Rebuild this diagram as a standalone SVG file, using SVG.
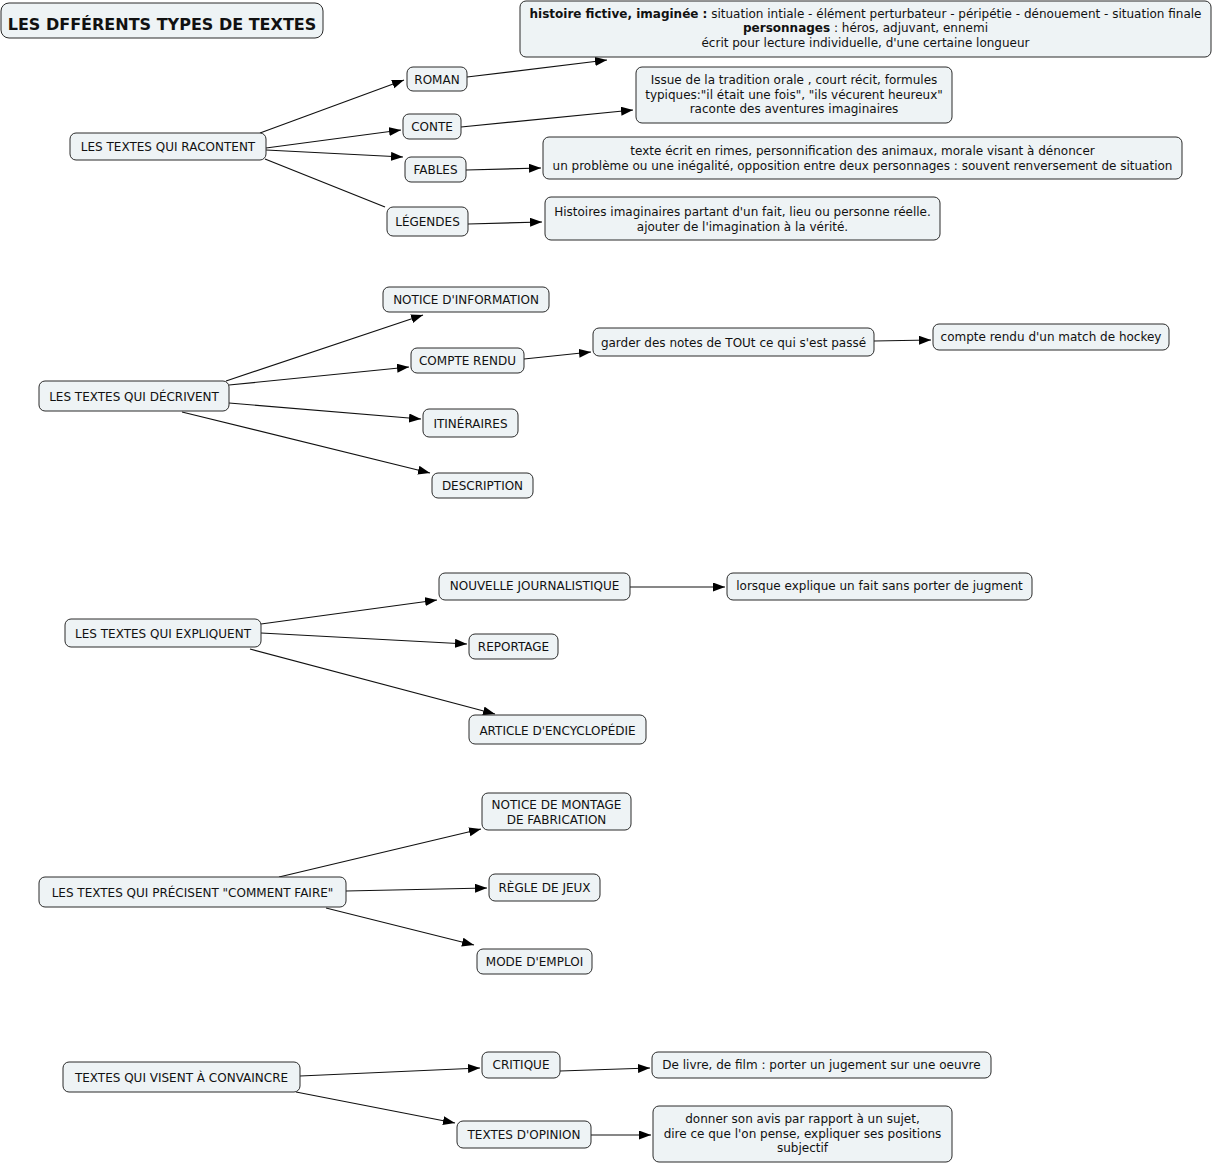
<svg xmlns="http://www.w3.org/2000/svg" width="1214" height="1165" viewBox="0 0 1214 1165">
<style>
.n rect{fill:#eef3f5;stroke:#2a2a2a;stroke-width:1}
.n text{font-family:"DejaVu Sans",Verdana,sans-serif;font-size:12px;fill:#111;text-anchor:middle}
.c line{stroke:#111;stroke-width:1.2;fill:none}
.c .a{marker-end:url(#ah)}
.b{font-weight:bold}
</style>
<defs>
<marker id="ah" markerUnits="userSpaceOnUse" markerWidth="13" markerHeight="10" refX="12" refY="4.5" orient="auto">
<path d="M0,0 L12,4.5 L0,9 z" fill="#000"/>
</marker>
</defs>
<rect width="1214" height="1165" fill="#fff"/>
<g id="connectors" class="c">
<line class="a" x1="260" y1="133" x2="404" y2="80"/>
<line class="a" x1="266" y1="148" x2="401" y2="130"/>
<line class="a" x1="266" y1="150" x2="403" y2="157"/>
<line x1="265" y1="159" x2="385" y2="207"/>
<line class="a" x1="467" y1="77" x2="607" y2="60"/>
<line class="a" x1="461" y1="127" x2="633" y2="110"/>
<line class="a" x1="466" y1="170" x2="541" y2="168"/>
<line class="a" x1="468" y1="224" x2="542" y2="222"/>
<line class="a" x1="226" y1="381" x2="423" y2="315"/>
<line class="a" x1="229" y1="385" x2="409" y2="367"/>
<line class="a" x1="229" y1="403" x2="421" y2="419"/>
<line class="a" x1="182" y1="412" x2="430" y2="473"/>
<line class="a" x1="524" y1="359" x2="591" y2="352"/>
<line class="a" x1="874" y1="341" x2="931" y2="340"/>
<line class="a" x1="261" y1="624" x2="437" y2="600"/>
<line class="a" x1="261" y1="633" x2="467" y2="644"/>
<line class="a" x1="250" y1="649" x2="495" y2="714"/>
<line class="a" x1="630" y1="587" x2="725" y2="587"/>
<line class="a" x1="279" y1="877" x2="481" y2="829"/>
<line class="a" x1="346" y1="891" x2="487" y2="888"/>
<line class="a" x1="326" y1="908" x2="474" y2="945"/>
<line class="a" x1="300" y1="1076" x2="480" y2="1068"/>
<line class="a" x1="296" y1="1092" x2="455" y2="1123"/>
<line class="a" x1="560" y1="1071" x2="650" y2="1068"/>
<line class="a" x1="591" y1="1135" x2="651" y2="1135"/>
</g>
<g id="title" class="n"><rect x="1" y="3" width="322" height="35" rx="8"/><text x="162" y="29.5" class="b" style="font-size:16px">LES DFFÉRENTS TYPES DE TEXTES</text></g>
<g id="racontent" class="n"><rect x="70" y="133" width="196" height="27" rx="6"/><text x="168" y="150.5">LES TEXTES QUI RACONTENT</text></g>
<g id="roman" class="n"><rect x="407" y="67" width="60" height="24" rx="6"/><text x="437" y="83.5">ROMAN</text></g>
<g id="roman-def" class="n"><rect x="520" y="1" width="691" height="56" rx="6"/><text x="865.5" y="18"><tspan class="b">histoire fictive, imaginée :</tspan> situation intiale - élément perturbateur - péripétie - dénouement - situation finale</text><text x="865.5" y="32"><tspan class="b">personnages</tspan> : héros, adjuvant, ennemi</text><text x="865.5" y="47">écrit pour lecture individuelle, d'une certaine longueur</text></g>
<g id="conte" class="n"><rect x="403" y="114" width="58" height="25" rx="6"/><text x="432" y="130.5">CONTE</text></g>
<g id="conte-def" class="n"><rect x="636" y="67" width="316" height="56" rx="6"/><text x="794" y="84">Issue de la tradition orale , court récit, formules</text><text x="794" y="98.5">typiques:"il était une fois", "ils vécurent heureux"</text><text x="794" y="113">raconte des aventures imaginaires</text></g>
<g id="fables" class="n"><rect x="405" y="157" width="61" height="25" rx="6"/><text x="435.5" y="174">FABLES</text></g>
<g id="fables-def" class="n"><rect x="543" y="137" width="639" height="42" rx="6"/><text x="862.5" y="154.5">texte écrit en rimes, personnification des animaux, morale visant à dénoncer</text><text x="862.5" y="169.5">un problème ou une inégalité, opposition entre deux personnages : souvent renversement de situation</text></g>
<g id="legendes" class="n"><rect x="387" y="207" width="81" height="29" rx="6"/><text x="427.5" y="226">LÉGENDES</text></g>
<g id="legendes-def" class="n"><rect x="545" y="197" width="395" height="43" rx="6"/><text x="742.5" y="215.5">Histoires imaginaires partant d'un fait, lieu ou personne réelle.</text><text x="742.5" y="230.5">ajouter de l'imagination à la vérité.</text></g>
<g id="decrivent" class="n"><rect x="39" y="381" width="190" height="30" rx="6"/><text x="134" y="400.5">LES TEXTES QUI DÉCRIVENT</text></g>
<g id="notice-info" class="n"><rect x="383" y="287" width="166" height="25" rx="6"/><text x="466" y="303.5">NOTICE D'INFORMATION</text></g>
<g id="compte-rendu" class="n"><rect x="411" y="348" width="113" height="25" rx="6"/><text x="467.5" y="364.5">COMPTE RENDU</text></g>
<g id="garder" class="n"><rect x="593" y="328" width="281" height="28" rx="6"/><text x="733.5" y="346.5">garder des notes de TOUt ce qui s'est passé</text></g>
<g id="hockey" class="n"><rect x="933" y="324" width="236" height="26" rx="6"/><text x="1051" y="341">compte rendu d'un match de hockey</text></g>
<g id="itineraires" class="n"><rect x="423" y="409" width="95" height="28" rx="6"/><text x="470.5" y="427.5">ITINÉRAIRES</text></g>
<g id="description" class="n"><rect x="432" y="473" width="101" height="25" rx="6"/><text x="482.5" y="489.5">DESCRIPTION</text></g>
<g id="expliquent" class="n"><rect x="65" y="619" width="196" height="28" rx="6"/><text x="163" y="637.5">LES TEXTES QUI EXPLIQUENT</text></g>
<g id="nouvelle" class="n"><rect x="439" y="573" width="191" height="27" rx="6"/><text x="534.5" y="590">NOUVELLE JOURNALISTIQUE</text></g>
<g id="lorsque" class="n"><rect x="727" y="573" width="305" height="27" rx="6"/><text x="879.5" y="590">lorsque explique un fait sans porter de jugment</text></g>
<g id="reportage" class="n"><rect x="469" y="634" width="89" height="25" rx="6"/><text x="513.5" y="650.5">REPORTAGE</text></g>
<g id="article" class="n"><rect x="469" y="715" width="177" height="29" rx="6"/><text x="557.5" y="735">ARTICLE D'ENCYCLOPÉDIE</text></g>
<g id="comment-faire" class="n"><rect x="39" y="877" width="307" height="30" rx="6"/><text x="192.5" y="896.5">LES TEXTES QUI PRÉCISENT "COMMENT FAIRE"</text></g>
<g id="notice-montage" class="n"><rect x="482" y="793" width="149" height="37" rx="6"/><text x="556.5" y="808.5">NOTICE DE MONTAGE</text><text x="556.5" y="823.5">DE FABRICATION</text></g>
<g id="regle" class="n"><rect x="489" y="874" width="111" height="27" rx="6"/><text x="544.5" y="892">RÈGLE DE JEUX</text></g>
<g id="mode" class="n"><rect x="477" y="949" width="115" height="25" rx="6"/><text x="534.5" y="966">MODE D'EMPLOI</text></g>
<g id="convaincre" class="n"><rect x="63" y="1062" width="237" height="30" rx="6"/><text x="181.5" y="1081.5">TEXTES QUI VISENT À CONVAINCRE</text></g>
<g id="critique" class="n"><rect x="482" y="1052" width="78" height="26" rx="6"/><text x="521" y="1068.5">CRITIQUE</text></g>
<g id="critique-def" class="n"><rect x="652" y="1052" width="339" height="26" rx="6"/><text x="821.5" y="1068.5">De livre, de film : porter un jugement sur une oeuvre</text></g>
<g id="opinion" class="n"><rect x="457" y="1121" width="134" height="27" rx="6"/><text x="524" y="1139">TEXTES D'OPINION</text></g>
<g id="opinion-def" class="n"><rect x="653" y="1106" width="299" height="56" rx="6"/><text x="802.5" y="1122.5">donner son avis par rapport à un sujet,</text><text x="802.5" y="1137.5">dire ce que l'on pense, expliquer ses positions</text><text x="802.5" y="1152">subjectif</text></g>
</svg>
